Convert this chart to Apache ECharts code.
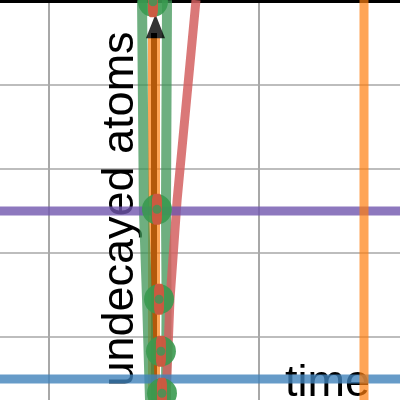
<!DOCTYPE html>
<html>
<head>
<meta charset="utf-8">
<script src="https://cdn.jsdelivr.net/npm/echarts@6/dist/echarts.min.js"></script>
<style>
html,body{margin:0;padding:0;background:#fff;width:400px;height:400px;overflow:hidden;position:relative}
#c{position:absolute;left:-161px;top:-20px;width:630px;height:441px}
</style>
</head>
<body>
<div id="c"></div>
<script>
// axis ranges (data units)
const xTicks = [0, 1, 2, 3];
const yTicks = [0, 1, 2, 3, 4, 5];
// measured points (time, undecayed atoms)
const markerTime = [1.495, 1.514, 1.524, 1.533, 1.538];
const markerAtoms = [4.99, 2.52, 1.45, 0.83, 0.33];
// red fitted curve
const fitTime = [1.700, 1.655, 1.610, 1.576, 1.557];
const fitAtoms = [5.01, 3.82, 2.63, 1.44, 0.25];
// green guide lines
const greenLeftTime = [1.443, 1.452, 1.467, 1.481];
const greenLeftAtoms = [5.01, 2.51, 1.44, 0.25];
const greenRightTime = [1.562, 1.557, 1.560, 1.557];
const greenRightAtoms = [5.01, 2.51, 1.44, 0.25];
// reference lines
const halfLevel = 2.5;
const baseLevel = 0.5;
const halfLifeTime = 2.5;
const axisTime = 1.5;
const axisTop = 4.62;
const arrowTime = 1.507;
const arrowAtoms = 4.70;
const orangeTop = 4.56;

const OX = 161, OY = 20; // offset of the chart box relative to the visible page

const zip = (a, b) => a.map((v, i) => [v, b[i]]);
const line = (data, color, width, opacity) => ({
  type: 'line', data, symbol: 'none', silent: true, animation: false,
  lineStyle: { color, width, opacity }, z: 2
});

const chart = echarts.init(document.getElementById('c'), null, { renderer: 'canvas' });
chart.setOption({
  animation: false,
  grid: { left: 0, right: 0, top: 21, bottom: 0, containLabel: false },
  xAxis: {
    type: 'value', min: xTicks[0], max: xTicks[xTicks.length - 1], interval: 1, position: 'top',
    axisLine: { show: true, onZero: false, lineStyle: { color: '#000', width: 3 } },
    axisTick: { show: false }, axisLabel: { show: false },
    splitLine: { show: true, lineStyle: { color: '#a8a8a8', width: 2 } }
  },
  yAxis: {
    type: 'value', min: yTicks[0], max: yTicks[yTicks.length - 1], interval: 1,
    axisLine: { show: false }, axisTick: { show: false }, axisLabel: { show: false },
    splitLine: { show: true, lineStyle: { color: '#bdbdbd', width: 2 } }
  },
  graphic: [
    { type: 'text', x: 121 + OX, y: 209 + OY, rotation: Math.PI / 2, z: 1,
      style: { text: 'undecayed atoms', font: '45px "Liberation Sans", Arial, sans-serif', fill: '#000',
               align: 'center', verticalAlign: 'middle', textAlign: 'center', textVerticalAlign: 'middle' } },
    { type: 'text', x: 285 + OX, y: 384 + OY, z: 1,
      style: { text: 'time', font: '45px "Liberation Sans", Arial, sans-serif', fill: '#000',
               align: 'left', verticalAlign: 'middle', textAlign: 'left', textVerticalAlign: 'middle' } }
  ],
  series: [
    line([[axisTime, axisTop], [axisTime, -0.5]], '#000', 6, 1),
    {
      type: 'scatter', data: [[arrowTime, arrowAtoms]], symbol: 'triangle', symbolSize: [19, 24],
      itemStyle: { color: '#000' }, silent: true, animation: false, z: 2
    },
    line([[axisTime, orangeTop], [axisTime, -0.5]], '#ff7f0e', 12, 0.7),
    line(zip(greenLeftTime, greenLeftAtoms), '#3d9455', 10, 0.75),
    line(zip(greenRightTime, greenRightAtoms), '#3d9455', 10, 0.75),
    line(zip(fitTime, fitAtoms), '#d46060', 9, 0.85),
    {
      type: 'scatter', data: zip(markerTime, markerAtoms), symbol: 'circle', symbolSize: 30,
      itemStyle: { color: '#3a9a50', opacity: 0.9 }, silent: true, animation: false, z: 3
    },
    {
      type: 'scatter', data: zip(markerTime, markerAtoms), symbol: 'roundRect', symbolSize: [10, 31],
      itemStyle: { color: '#d9533f', opacity: 0.9 }, silent: true, animation: false, z: 3
    },
    {
      type: 'scatter', data: zip(markerTime, markerAtoms), symbol: 'circle', symbolSize: 9,
      itemStyle: { color: '#4f8f55', opacity: 0.95 }, silent: true, animation: false, z: 3
    },
    line([[xTicks[0], halfLevel], [xTicks[xTicks.length - 1], halfLevel]], '#7056ae', 9, 0.8),
    line([[xTicks[0], baseLevel], [xTicks[xTicks.length - 1], baseLevel]], '#4082ba', 9, 0.8),
    line([[halfLifeTime, yTicks[yTicks.length - 1] + 1], [halfLifeTime, -1]], '#ff7f0e', 9, 0.7)
  ]
});
</script>
</body>
</html>
